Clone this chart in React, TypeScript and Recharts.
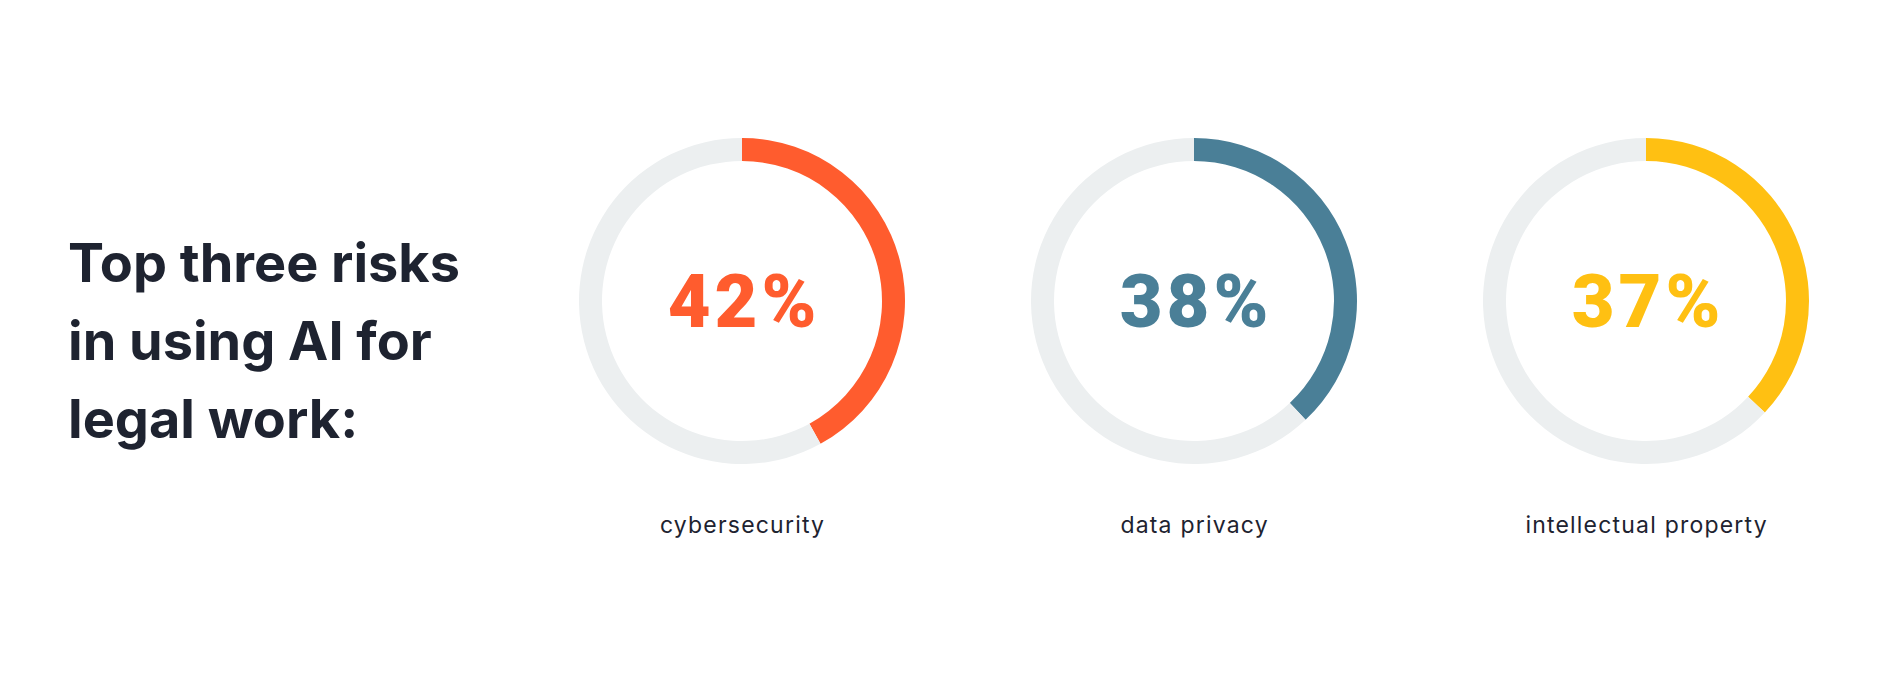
import { PieChart, Pie, Cell } from "recharts";

const categories = ["cybersecurity", "data privacy", "intellectual property"];
const shares = [42, 38, 37];
const colors = ["#FF5C2E", "#4A7F97", "#FFC012"];
const centersX = [742, 1194, 1646];

const TRACK = "#ECEFF0";
const INK = "#1E2330";
const CY = 301;

export default function App() {
  return (
    <div style={{ position: "absolute", left: 0, top: 0, width: 1877, height: 680, background: "#fff" }}>
      <PieChart width={1877} height={680} margin={{ top: 0, right: 0, bottom: 0, left: 0 }}>
        {shares.map((v, i) => (
          <Pie
            key={categories[i]}
            data={[{ name: categories[i], value: v }, { name: "rest", value: 100 - v }]}
            dataKey="value"
            cx={centersX[i]}
            cy={CY}
            innerRadius={140}
            outerRadius={163}
            startAngle={90}
            endAngle={-270}
            stroke="none"
            isAnimationActive={false}
          >
            <Cell fill={colors[i]} />
            <Cell fill={TRACK} />
          </Pie>
        ))}
      </PieChart>

      <div
        style={{
          position: "absolute",
          left: 68,
          top: 224,
          fontFamily: "Inter, sans-serif",
          fontWeight: 700,
          fontSize: 54,
          lineHeight: "78px",
          letterSpacing: 0,
          color: INK,
          whiteSpace: "nowrap",
        }}
      >
        Top three risks
        <br />
        in using AI for
        <br />
        legal work:
      </div>

      {shares.map((v, i) => (
        <div key={"pct" + i}>
          <div
            style={{
              position: "absolute",
              left: centersX[i] - 150,
              width: 300,
              top: CY - 43,
              textAlign: "center",
              fontFamily: "Roboto, sans-serif",
              fontWeight: 900,
              fontSize: 74,
              lineHeight: "88px",
              letterSpacing: 4,
              textIndent: 4,
              color: colors[i],
            }}
          >
            {v}%
          </div>
          <div
            style={{
              position: "absolute",
              left: centersX[i] - 200,
              width: 400,
              top: 511,
              textAlign: "center",
              fontFamily: "Inter, sans-serif",
              fontSize: 23,
              lineHeight: "28px",
              color: INK,
              letterSpacing: 1.2,
              textIndent: 1.2,
            }}
          >
            {categories[i]}
          </div>
        </div>
      ))}
    </div>
  );
}
